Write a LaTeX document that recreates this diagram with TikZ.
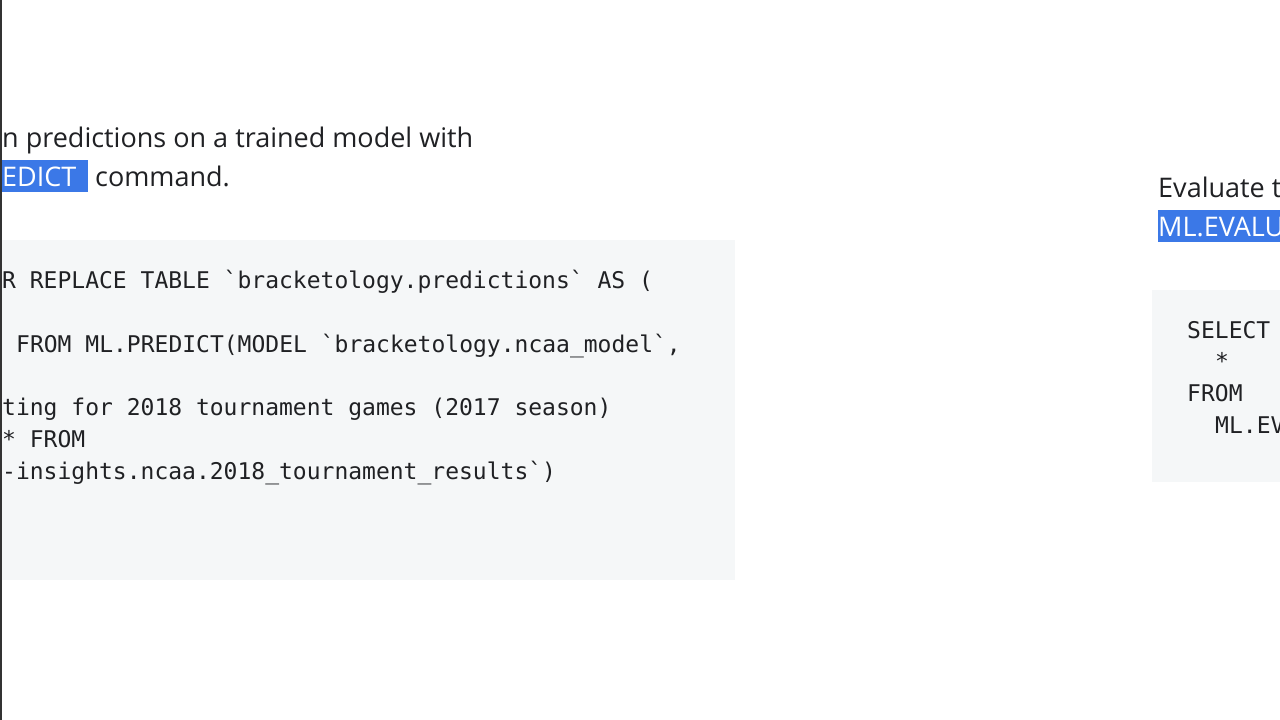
\documentclass[tikz,border=0pt]{standalone}
\usepackage{fontspec}
\setmainfont{Open Sans}
\newfontfamily\codefont{DejaVu Sans Mono}
\definecolor{hl}{HTML}{3B78E7}
\definecolor{codebg}{HTML}{F5F7F8}
\definecolor{txt}{HTML}{202124}
\tikzset{
  prose/.style={anchor=base west,inner sep=0pt,font=\fontsize{27}{30}\selectfont,text=txt},
  code/.style={anchor=base west,inner sep=0pt,font=\codefont\fontsize{23}{26}\selectfont,text=txt},
}
\begin{document}
\begin{tikzpicture}[x=1pt,y=-1pt]
\useasboundingbox (0,0) rectangle (1280,720);
\clip (0,0) rectangle (1280,720);
\fill[white] (0,0) rectangle (1280,720);
\fill[black!80] (0,0) rectangle (1.5,720);
% left slide
\node[prose] (l1) at (2,147) {n predictions on a trained model with};
\fill[hl] (1.5,160) rectangle (88,192);
\node[prose,text=white] (l2a) at (2,186) {EDICT};
\node[prose] (l2b) at (95,186) {command.};
\fill[codebg] (1.5,240) rectangle (735,580);
\node[code] (c1) at (2,288) {R REPLACE TABLE `bracketology.predictions` AS (};
\node[code] (c2) at (16,352) {FROM ML.PREDICT(MODEL `bracketology.ncaa\_model`,};
\node[code] (c3) at (2,415) {ting for 2018 tournament games (2017 season)};
\node[code] (c4) at (2,447) {* FROM};
\node[code] (c5) at (2,479) {-insights.ncaa.2018\_tournament\_results`)};
% right slide
\node[prose] (r1) at (1158,197) {Evaluate the};
\fill[hl] (1158,210) rectangle (1280,242);
\node[prose,text=white] (r2) at (1158,236) {ML.EVALUATE};
\fill[codebg] (1152,290) rectangle (1280,482);
\node[code] (d1) at (1187,338) {SELECT};
\node[code] (d2) at (1215,369) {*};
\node[code] (d3) at (1187,401) {FROM};
\node[code] (d4) at (1215,433) {ML.EVALUATE};
\end{tikzpicture}
\end{document}
